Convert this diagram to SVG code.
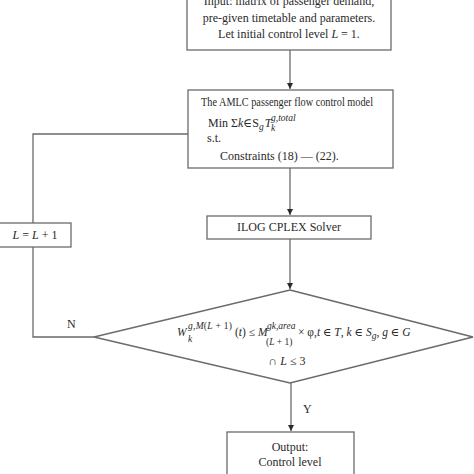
<svg xmlns="http://www.w3.org/2000/svg" width="474" height="474" viewBox="0 0 474 474">
<defs>
<style>
.box{fill:#fff;stroke:#6a6a6a;stroke-width:1.3}
.ln{fill:none;stroke:#6a6a6a;stroke-width:1.3}
text{font-family:"Liberation Serif","DejaVu Serif",serif;fill:#2a2a2a;font-size:12px}
.c{text-anchor:middle}
.i{font-style:italic}
.s{font-size:9.5px}
.d{font-size:11.5px}
</style>
<marker id="ah" viewBox="0 0 8 10" refX="8" refY="5" markerWidth="6" markerHeight="8" markerUnits="userSpaceOnUse" orient="auto">
<path d="M0,1 L8,5 L0,9 z" fill="#2a2a2a"/>
</marker>
</defs>
<rect width="474" height="474" fill="#fff"/>
<g id="connectors">
<path class="ln" d="M290,50 V89" marker-end="url(#ah)"/>
<path class="ln" d="M290,168 V215" marker-end="url(#ah)"/>
<path class="ln" d="M290,239 V289" marker-end="url(#ah)"/>
<path class="ln" d="M291,383 V431" marker-end="url(#ah)"/>
<path class="ln" d="M94,337 H33 V247"/>
<path class="ln" d="M33,223 V134 H188"/>
<text x="67" y="328" font-size="11">N</text>
<text x="303" y="413" font-size="11">Y</text>
</g>
<g id="input">
<rect class="box" x="187" y="-5" width="204" height="55"/>
<text class="c" x="289" y="5">Input: matrix of passenger demand,</text>
<text class="c" x="289" y="22">pre-given timetable and parameters.</text>
<text class="c" x="289" y="38">Let initial control level <tspan class="i">L</tspan> = 1.</text>
</g>
<g id="model">
<rect class="box" x="188" y="90" width="205" height="78"/>
<text x="201" y="106" font-size="11" textLength="172" lengthAdjust="spacingAndGlyphs">The AMLC passenger flow control model</text>
<text x="208" y="127">Min Σ<tspan class="i">k</tspan>∈S<tspan class="i s" dy="3">g</tspan><tspan class="i" dy="-3" dx="1">T</tspan></text>
<text x="271" y="121" class="i s">g,total</text>
<text x="271" y="131" class="i s">k</text>
<text x="207" y="142" font-size="11.5">s.t.</text>
<text x="220" y="160">Constraints (18) — (22).</text>
</g>
<g id="solver">
<rect class="box" x="207" y="216" width="164" height="23"/>
<text class="c" x="289" y="231">ILOG CPLEX Solver</text>
</g>
<g id="increment">
<rect class="box" x="-2" y="223" width="73" height="24"/>
<text class="c" x="35" y="239"><tspan class="i">L</tspan> = <tspan class="i">L</tspan> + 1</text>
</g>
<g id="decision">
<polygon class="box" points="290,290 473,337 290,383 94,337"/>
<text x="177" y="336" class="i d">W</text>
<text x="188" y="329" class="s" textLength="44"><tspan class="i">g</tspan>,<tspan class="i">M</tspan>(<tspan class="i">L</tspan> + 1)</text>
<text x="188" y="342" class="i s">k</text>
<text x="235" y="336" class="d">(<tspan class="i">t</tspan>) ≤ <tspan class="i">M</tspan></text>
<text x="267" y="329" class="i s">gk,area</text>
<text x="266" y="345" class="s">(<tspan class="i">L</tspan> + 1)</text>
<text x="298" y="336" class="d">× φ,<tspan class="i">t</tspan> ∈ <tspan class="i">T</tspan>, <tspan class="i">k</tspan> ∈ <tspan class="i">S</tspan><tspan class="i s" dy="3">g</tspan><tspan dy="-3">, </tspan><tspan class="i">g</tspan> ∈ <tspan class="i">G</tspan></text>
<text class="c" x="287" y="365">∩ <tspan class="i">L</tspan> ≤ 3</text>
</g>
<g id="output">
<rect class="box" x="227" y="432" width="127" height="50"/>
<text class="c" x="290" y="451">Output:</text>
<text class="c" x="290" y="466">Control level</text>
</g>
</svg>
